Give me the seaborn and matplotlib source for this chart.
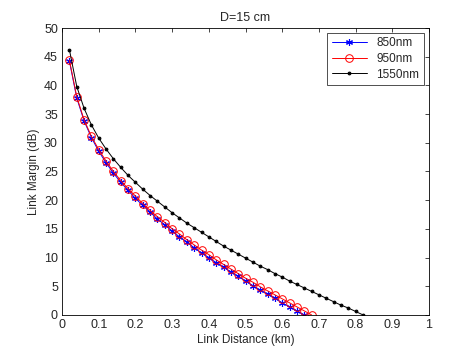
import numpy as np
import pandas as pd
import seaborn as sns
import matplotlib
matplotlib.use("Agg")
import matplotlib.pyplot as plt

# values (points every 0.02 km)
dist_850 = [round(0.02 * i, 2) for i in range(1, 34)]
margin_850 = [44.2, 37.8, 33.8, 30.9, 28.5, 26.5, 24.7, 23.1, 21.7, 20.3,
              19.1, 17.9, 16.7, 15.7, 14.6, 13.6, 12.7, 11.7, 10.8, 10.0,
              9.1, 8.3, 7.5, 6.7, 5.9, 5.1, 4.3, 3.6, 2.9, 2.1,
              1.4, 0.7, 0.0]

dist_950 = [round(0.02 * i, 2) for i in range(1, 35)]
margin_950 = [44.4, 38.0, 34.0, 31.1, 28.8, 26.8, 25.0, 23.4, 22.0, 20.7,
              19.4, 18.2, 17.1, 16.1, 15.0, 14.1, 13.1, 12.2, 11.3, 10.5,
              9.6, 8.8, 8.0, 7.2, 6.4, 5.7, 4.9, 4.2, 3.5, 2.8,
              2.1, 1.4, 0.7, 0.0]

dist_1550 = [round(0.02 * i, 2) for i in range(1, 42)]
margin_1550 = [46.2, 39.8, 36.0, 33.1, 30.8, 28.9, 27.2, 25.7, 24.3, 23.1,
               21.9, 20.8, 19.8, 18.8, 17.8, 16.9, 16.0, 15.2, 14.4, 13.6,
               12.8, 12.0, 11.3, 10.6, 9.9, 9.2, 8.5, 7.9, 7.2, 6.6,
               5.9, 5.3, 4.7, 4.1, 3.5, 2.9, 2.3, 1.7, 1.2, 0.6, 0.0]

sns.set_style("white")
plt.rcParams['font.family'] = ['Liberation Sans', 'DejaVu Sans']

fig = plt.figure(figsize=(4.74, 3.55), dpi=100)
ax = fig.add_axes([0.131, 0.113, 0.774, 0.808])

# matlab style asterisk marker
asterisk = (6, 2, 0)
sns.lineplot(x=dist_850, y=margin_850, ax=ax, color="blue", lw=0.7,
             marker=asterisk, markersize=5, markeredgecolor="blue",
             markeredgewidth=0.8, label="850nm")
sns.lineplot(x=dist_950, y=margin_950, ax=ax, color="red", lw=0.7,
             marker="o", markersize=5.5, markerfacecolor="none",
             markeredgecolor="red", markeredgewidth=0.7, label="950nm")
sns.lineplot(x=dist_1550, y=margin_1550, ax=ax, color="black", lw=0.7,
             marker=".", markersize=4, markeredgecolor="black",
             label="1550nm")

ax.set_xlim(0, 1)
ax.set_ylim(0, 50)
ax.set_xticks(np.arange(0, 1.01, 0.1))
ax.set_xticklabels(["0", "0.1", "0.2", "0.3", "0.4", "0.5", "0.6",
                    "0.7", "0.8", "0.9", "1"])
ax.set_yticks(np.arange(0, 51, 5))
ax.tick_params(direction="in", length=3, width=0.6, labelsize=9,
               top=True, right=True, pad=3)
for s in ax.spines.values():
    s.set_color("black")
    s.set_linewidth(0.6)

ax.set_xlabel("Link Distance (km)", fontsize=8.5, labelpad=2)
ax.set_ylabel("Link Margin (dB)", fontsize=8.5, labelpad=3)
ax.set_title("D=15 cm", fontsize=9, pad=5)

leg = ax.legend(loc="upper right", fontsize=8.5, frameon=True, fancybox=False,
                edgecolor="black", borderaxespad=0.4, handlelength=3.0,
                labelspacing=0.3, borderpad=0.4)
leg.get_frame().set_linewidth(0.6)

fig.savefig("out.png", dpi=100)
